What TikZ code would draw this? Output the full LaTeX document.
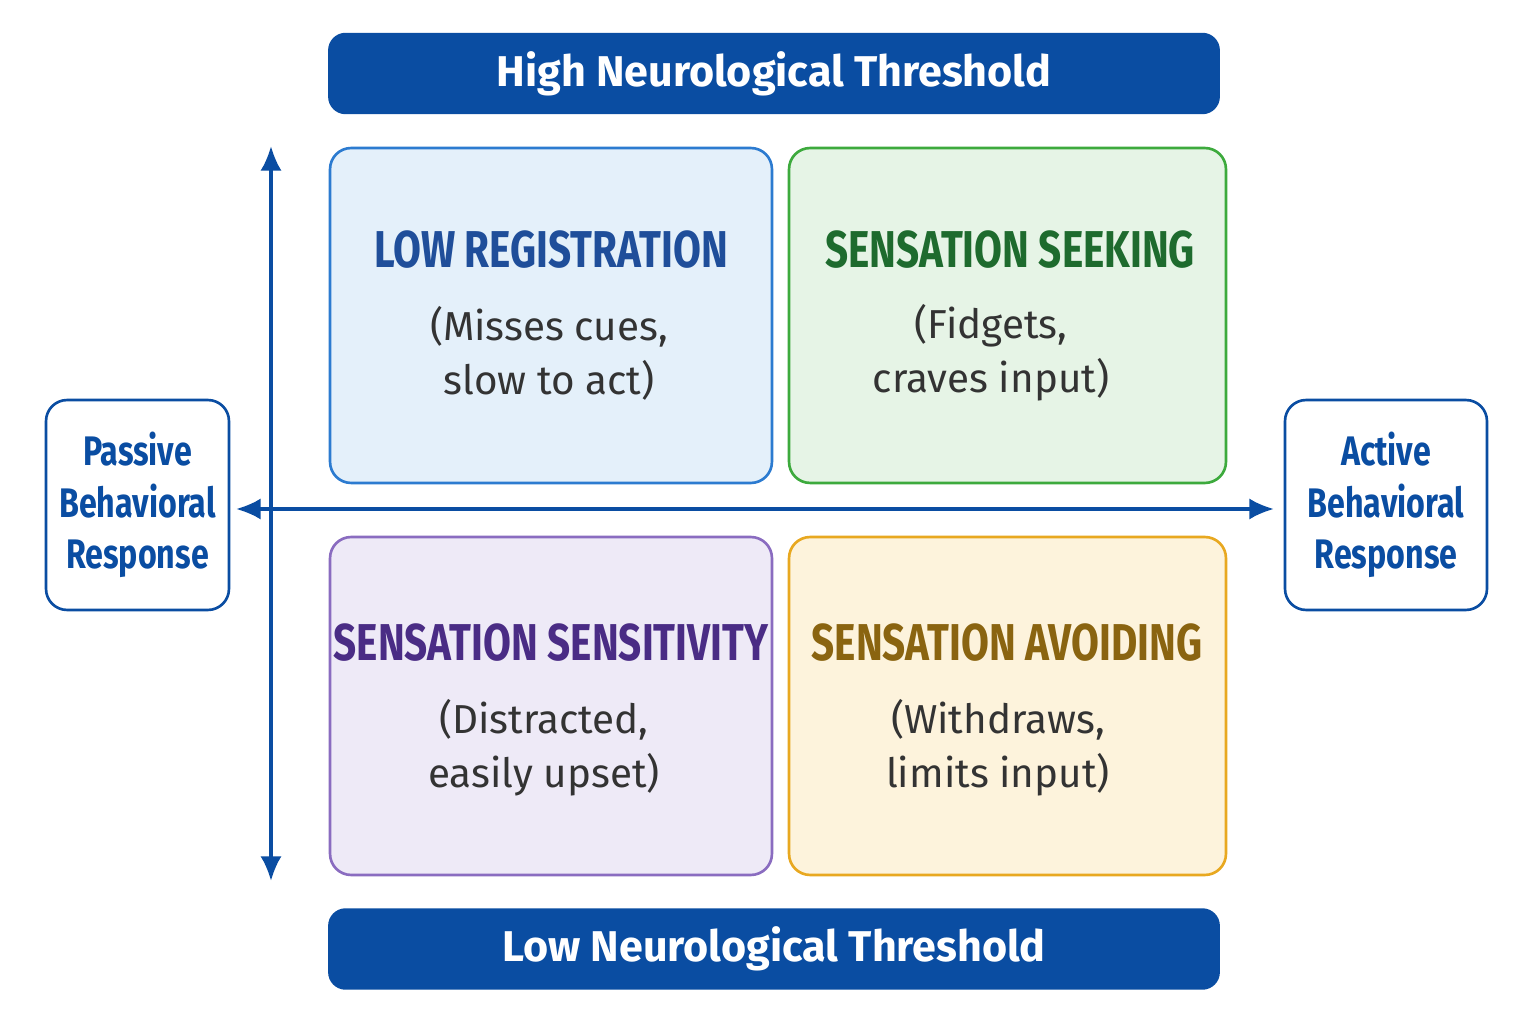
\documentclass[tikz,border=0pt]{standalone}
\usepackage{fontspec}
\setmainfont{Fira Sans}
\newfontfamily\headfont{Fira Sans}[FakeStretch=0.78]
\usetikzlibrary{arrows.meta}
\definecolor{bannerblue}{HTML}{0A4DA2}
\definecolor{regfill}{HTML}{E4F0FA}\definecolor{regline}{HTML}{2C7BD0}\definecolor{regtext}{HTML}{1F4E9A}
\definecolor{seekfill}{HTML}{E6F4E6}\definecolor{seekline}{HTML}{3DAA3D}\definecolor{seektext}{HTML}{1E6B2E}
\definecolor{sensfill}{HTML}{EEEAF7}\definecolor{sensline}{HTML}{8A6CC0}\definecolor{senstext}{HTML}{4A2C85}
\definecolor{avoidfill}{HTML}{FDF3DC}\definecolor{avoidline}{HTML}{E8A820}\definecolor{avoidtext}{HTML}{8A6410}
\definecolor{bodytext}{HTML}{333333}
\tikzset{
  banner/.style={fill=bannerblue, rounded corners=10pt, text=white,
    font=\fontsize{24.5}{30}\selectfont\bfseries, minimum width=17.84cm, minimum height=1.63cm},
  quad/.style={line width=1.5pt, rounded corners=12pt, minimum width=8.84cm, minimum height=6.7cm},
  head/.style={font=\headfont\fontsize{29.5}{34}\selectfont\bfseries},
  body/.style={font=\fontsize{23}{30.6}\selectfont, text=bodytext, align=center},
  side/.style={draw=bannerblue, line width=1.5pt, rounded corners=12pt, text=bannerblue, align=center,
    font=\headfont\fontsize{23.5}{29.5}\selectfont\bfseries, minimum height=4.2cm},
  axis/.style={bannerblue, line width=2pt, {Latex[length=14pt,width=12pt]}-{Latex[length=14pt,width=12pt]}}
}
\begin{document}
\begin{tikzpicture}[x=0.02cm,y=-0.02cm]
  \useasboundingbox[fill=white] (0,0) rectangle (1536,1023);
  % banners
  \node[banner] (high) at (774,73.5) {High Neurological Threshold};
  \node[banner] (low) at (774,949) {Low Neurological Threshold};
  % quadrants
  \node[quad, draw=regline, fill=regfill] (reg) at (551,315.5) {};
  \node[quad, draw=seekline, fill=seekfill, minimum width=8.74cm] (seek) at (1007.5,315.5) {};
  \node[quad, draw=sensline, fill=sensfill, minimum height=6.76cm] (sens) at (551,706) {};
  \node[quad, draw=avoidline, fill=avoidfill, minimum width=8.74cm, minimum height=6.76cm] (avoid) at (1007.5,706) {};
  \node[head, text=regtext] at (551,250) {LOW REGISTRATION};
  \node[body] at (549,353) {(Misses cues,\\slow to act)};
  \node[head, text=seektext] at (1010,250) {SENSATION SEEKING};
  \node[body] at (991,353) {(Fidgets,\\craves input)};
  \node[head, text=senstext] at (551,643) {SENSATION SENSITIVITY};
  \node[body] at (544,748) {(Distracted,\\easily upset)};
  \node[head, text=avoidtext] at (1007,643) {SENSATION AVOIDING};
  \node[body] at (998,748) {(Withdraws,\\limits input)};
  % side labels
  \node[side, minimum width=3.66cm] (passive) at (137.5,505) {Passive\\Behavioral\\Response};
  \node[side, minimum width=4.04cm] (active) at (1386,505) {Active\\Behavioral\\Response};
  % axes
  \coordinate (vtop) at (271,146);
  \coordinate (vbot) at (271,881);
  \coordinate (hleft) at (236,509);
  \coordinate (hright) at (1274,509);
  \draw[axis] (vtop) -- (vbot);
  \draw[axis] (hleft) -- (hright);
\end{tikzpicture}
\end{document}
